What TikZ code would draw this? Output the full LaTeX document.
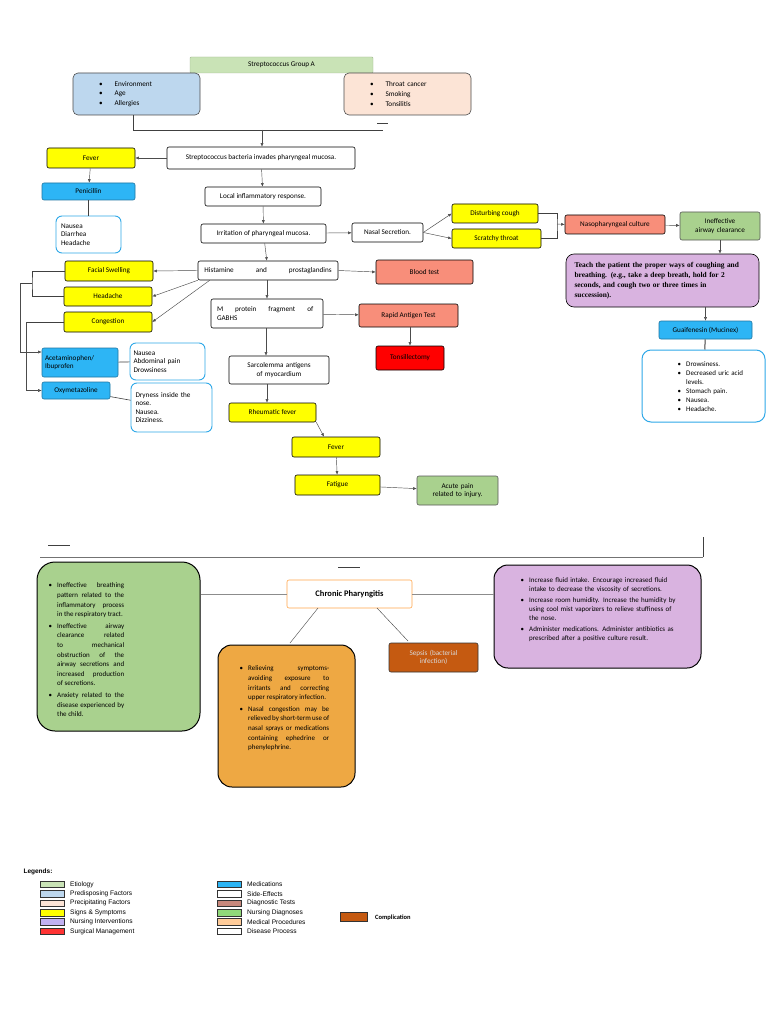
\documentclass[tikz,border=0pt]{standalone}
\usepackage{fontspec}
\usepackage{enumitem}
\setmainfont{Carlito}
\newfontfamily\lib{Liberation Sans}
\newfontfamily\ser{Liberation Serif}
\usetikzlibrary{arrows.meta}
\definecolor{etio}{HTML}{C9E3B6}
\definecolor{pred}{HTML}{BDD7EE}
\definecolor{prec}{HTML}{FCE4D6}
\definecolor{sign}{HTML}{FFFF00}
\definecolor{med}{HTML}{2DB5F5}
\definecolor{sebd}{HTML}{2EA8E8}
\definecolor{diag}{HTML}{F88E7A}
\definecolor{nd}{HTML}{A9D18E}
\definecolor{ni}{HTML}{D9B3E0}
\definecolor{mp}{HTML}{EEA843}
\definecolor{comp}{HTML}{C55A11}
\definecolor{surg}{HTML}{FF0000}
\newcommand\bx[7]{\node[#6, minimum width={(#4-#2)*1pt}, minimum height={(#5-#3)*1pt}] (#1) at ({(#2+#4)/2},{(#3+#5)/2}) {#7};}
\setlist[itemize]{nosep, leftmargin=12pt, itemsep=2pt, label=\textbullet}
\hyphenpenalty=10000
\exhyphenpenalty=10000
\tikzset{
 base/.style={draw, rounded corners=2pt, line width=0.6pt, inner sep=1pt, align=center, font=\fontsize{7.2}{8.6}\selectfont},
 dis/.style={base, fill=white},
 sg/.style={base, fill=sign},
 md/.style={base, fill=med, draw=sebd!70!black},
 se/.style={base, fill=white, draw=sebd, rounded corners=6pt, line width=0.9pt},
 dt/.style={base, fill=diag},
 ndx/.style={base, fill=nd, draw=gray!70!black},
 arr/.style={-{Latex[length=3.5pt,width=3pt]}, line width=0.45pt, black!70},
 ln/.style={line width=0.6pt, black!75},
 tx/.style={anchor=north west, inner sep=0pt, font=\fontsize{7}{9.6}\selectfont},
}
\begin{document}
\hyphenpenalty=10000
\begin{tikzpicture}[x=1pt,y=-1pt]
\useasboundingbox (0,0) rectangle (768,1024);
\fill[white] (0,0) rectangle (768,1024);
% top
\bx{sga}{190}{57}{373}{73}{base, fill=etio, draw=etio!80!black, line width=0.4pt, rounded corners=1pt}{Streptococcus Group A}
\bx{pf}{73}{73}{200}{115}{base, fill=pred, draw=black!70, rounded corners=5pt, align=left, text width=115pt}{\hspace*{20pt}\textbullet\hspace{12pt}Environment\\[1pt]\hspace*{20pt}\textbullet\hspace{12pt}Age\\[1pt]\hspace*{20pt}\textbullet\hspace{12pt}Allergies}
\bx{pc}{344}{73}{471}{115}{base, fill=prec, draw=black!70, rounded corners=5pt, align=left, text width=115pt}{\hspace*{20pt}\textbullet\hspace{12pt}Throat cancer\\[1pt]\hspace*{20pt}\textbullet\hspace{12pt}Smoking\\[1pt]\hspace*{20pt}\textbullet\hspace{12pt}Tonsilitis}
\coordinate (j1) at (133,130);
\coordinate (j2) at (383,130);
\coordinate (j3) at (262,130);
\draw[ln] (pf.south -| j1) -- (j1) -- (j2);
\draw[ln] (377,123) -- (388,123);
\bx{sbi}{167}{147}{355}{169}{dis}{Streptococcus bacteria invades pharyngeal mucosa.}
\draw[arr] (j3) -- (sbi.north -| j3);
\bx{fev}{47}{148}{135}{168}{sg}{Fever}
\draw[arr] (sbi) -- (fev);
\bx{pen}{42}{183}{135}{200}{md}{Penicillin}
\draw[arr] (fev) -- (pen);
\bx{pse}{56}{216}{121}{253}{se, align=left, text width=55pt}{Nausea\\Diarrhea\\Headache}
\draw[ln] (pen.south -| pse.north) -- (pse.north);
\bx{lir}{205}{187}{321}{206}{dis}{Local inflammatory response.}
\draw[arr] (sbi) -- (lir);
\bx{irr}{201}{224}{326}{243}{dis}{Irritation of pharyngeal mucosa.}
\draw[arr] (lir) -- (irr);
\bx{nas}{352}{223}{423}{242}{dis}{Nasal Secretion.}
\draw[arr] (irr) -- (nas);
\bx{dc}{452}{204}{538}{223}{sg}{Disturbing cough}
\bx{st}{452}{229}{541}{248}{sg}{Scratchy throat}
\draw[arr] (nas.east) -- (dc.west);
\draw[arr] (nas.east) -- (st.west);
\bx{npc}{565}{215}{665}{234}{dt}{Nasopharyngeal culture}
\coordinate (b1) at (557,224);
\draw[ln] (dc.east) -| (b1) |- (st.east);
\draw[arr] (b1) -- (npc.west);
\bx{iac}{680}{212}{760}{240}{ndx, text width=72pt}{Ineffective airway clearance}
\draw[arr] (npc) -- (iac);
\bx{tch}{566}{254}{759}{307}{base, fill=ni, rounded corners=8pt, align=left, text width=176pt, font=\ser\fontsize{7.4}{9.8}\selectfont}{\textbf{Teach the patient the proper ways of coughing and\\breathing. (e.g., take a deep breath, hold for 2\\seconds, and cough two or three times in\\succession).}}
\draw[arr] (iac) -- (iac.south |- tch.north);
\bx{gua}{659}{321}{752}{339}{md}{Guaifenesin (Mucinex)}
\draw[arr] (tch.south -| gua) -- (gua);
\bx{gse}{642}{350}{765}{422}{se, rounded corners=9pt, line width=1pt}{}
\node[tx, text width=80pt, font=\fontsize{7}{9}\selectfont] (gset) at (672,357) {%
\begin{itemize}[leftmargin=14pt, itemsep=0pt]
\item Drowsiness.
\item Decreased uric acid levels.
\item Stomach pain.
\item Nausea.
\item Headache.
\end{itemize}};
\draw[ln, line width=1pt] (gua) -- (gse);
% histamine
\bx{his}{198}{261}{338}{280}{dis}{Histamine\hspace{22pt}and\hspace{22pt}prostaglandins}
\draw[arr] (irr) -- (his);
\bx{fs}{65}{261}{153}{281}{sg}{Facial Swelling}
\bx{ha}{64}{287}{152}{306}{sg}{Headache}
\bx{cg}{64}{312}{152}{332}{sg}{Congestion}
\draw[arr] (his.west) -- (fs.east);
\draw[arr] (his.south west) -- (ha.east);
\draw[arr] ([xshift=12pt]his.south west) -- (cg.east);
\bx{bt}{376}{260}{473}{284}{dt}{Blood test}
\draw[arr] (his.east) -- (bt.west);
\bx{mp}{211}{299}{323}{328}{dis, text width=100pt, align=left}{M\hspace{12pt}protein\hspace{12pt}fragment\hspace{12pt}of\\GABHS}
\draw[arr] (his.south -| mp) -- (mp.north);
\bx{rat}{359}{304}{458}{327}{dt}{Rapid Antigen Test}
\draw[arr] (mp) -- (rat);
\bx{ton}{376}{346}{444}{370}{base, fill=surg}{Tonsillectomy}
\draw[arr] (rat.south -| ton) -- (ton);
\bx{sar}{229}{356}{329}{384}{dis, text width=96pt}{Sarcolemma antigens of myocardium}
\draw[arr] (mp.south -| 266,0) -- (sar.north -| 266,0);
\bx{rf}{229}{403}{316}{422}{sg}{Rheumatic fever}
\draw[arr] (sar.south -| 267,0) -- (rf.north -| 267,0);
\bx{fv2}{292}{437}{380}{457}{sg}{Fever}
\draw[arr] (rf.south east) -- (fv2.north west -| 324,0);
\bx{fat}{295}{475}{380}{495}{sg}{Fatigue}
\draw[arr] (fv2) -- (fat);
\bx{apn}{417}{476}{498}{505}{ndx, text width=72pt}{Acute pain related to injury.}
\draw[arr] (fat) -- (apn);
% meds
\bx{ace}{42}{348}{118}{377}{md, text width=70pt, align=left}{Acetaminophen/\\Ibuprofen}
\bx{ase}{130}{343}{205}{380}{se, align=left, text width=68pt}{Nausea\\Abdominal pain\\Drowsiness}
\draw[ln] (ace) -- (ase);
\bx{oxy}{42}{382}{110}{399}{md}{Oxymetazoline}
\bx{ose}{131}{383}{212}{432}{se, align=left, text width=72pt}{Dryness inside the nose.\\Nausea.\\Dizziness.}
\draw[ln] (oxy) -- (ose);
\coordinate (k1) at (32,283);
\coordinate (k2) at (20,283);
\coordinate (k3) at (26,322);
\draw[ln] (fs.west) -| (k1) |- (ha.west);
\draw[ln] (k1) -- (k2);
\draw[arr] (k2) |- (ace.west |- 0,352);
\draw[ln] (cg.west) -| (k3);
\draw[arr] (k3) |- (oxy.west);
% divider
\draw[line width=0.5pt, black!55] (40,557) -- (703,557);
\draw[ln] (703,537) -- (703,557);
\draw[ln] (48,545) -- (70,545);
\draw[ln] (338,567) -- (360,567);
% bottom
\bx{cp}{287}{580}{412}{608}{base, fill=white, draw=orange!70, line width=0.6pt, font=\bfseries\fontsize{8.5}{10}\selectfont}{Chronic Pharyngitis}
\bx{ndb}{37}{562}{200}{731}{base, fill=nd, rounded corners=18pt, line width=1pt}{}
\node[tx, text width=79pt, align=justify] (ndt) at (45,578) {%
\begin{itemize}
\item Ineffective breathing pattern related to the inflammatory process in the respiratory tract.
\item Ineffective airway clearance related to mechanical obstruction of the airway secretions and increased production of secretions.
\item Anxiety related to the disease experienced by the child.
\end{itemize}};
\bx{mpb}{218}{645}{355}{787}{base, fill=mp, rounded corners=14pt, line width=1pt}{}
\node[tx, text width=93pt, align=justify] (mpt) at (236,661) {%
\begin{itemize}
\item Relieving symptoms- avoiding exposure to irritants and correcting upper respiratory infection.
\item Nasal congestion may be relieved by short-term use of nasal sprays or medications containing ephedrine or phenylephrine.
\end{itemize}};
\bx{sep}{389}{643}{478}{672}{base, fill=comp, draw=black!80, text width=60pt, text=white!85!black}{Sepsis (bacterial infection)}
\bx{nib}{494}{565}{701}{668}{base, fill=ni, rounded corners=14pt, line width=1pt}{}
\node[tx, text width=168pt, align=left, font=\fontsize{7}{9.3}\selectfont] (nit) at (515,573) {%
\begin{itemize}[leftmargin=14pt, itemsep=1pt]
\item Increase fluid intake. Encourage increased fluid intake to decrease the viscosity of secretions.
\item Increase room humidity. Increase the humidity by using cool mist vaporizers to relieve stuffiness of the nose.
\item Administer medications. Administer antibiotics as prescribed after a positive culture result.
\end{itemize}};
\draw[line width=0.6pt, black!45] (ndb.east |- cp) -- (cp.west);
\draw[line width=0.6pt, black!45] (cp.east) -- (nib.west |- cp);
\draw[line width=0.4pt, black!75] (318,608) -- (290,643);
\draw[line width=0.4pt, black!75] (377,608) -- (408,641);
% legend
\node[anchor=west, font=\lib\bfseries\fontsize{6.5}{8}\selectfont] (lg) at (20,872) {Legends:};
\tikzset{sw/.style={draw=black!80, line width=0.6pt, minimum width=24pt, minimum height=6.5pt, inner sep=0pt},
 lt/.style={anchor=west, font=\lib\fontsize{6.6}{8}\selectfont, inner sep=0pt}}
\foreach \c/\t [count=\i] in {etio/Etiology, pred/Predisposing Factors, prec/Precipitating Factors, sign/Signs \& Symptoms, ni!70!blue!60/Nursing Interventions, red!80/Surgical Management}{
  \node[sw, fill=\c] (la\i) at (52,{875+9.4*\i}) {};
  \node[lt] (lat\i) at (70,{875+9.4*\i}) {\t};
}
\foreach \c/\t [count=\i] in {med/Medications, white/Side-Effects, diag!60!gray/Diagnostic Tests, nd!85!green/Nursing Diagnoses, prec!40!orange!60/Medical Procedures, white/Disease Process}{
  \node[sw, fill=\c] (lb\i) at (229,{875+9.4*\i}) {};
  \node[lt] (lbt\i) at (247,{875+9.4*\i}) {\t};
}
\node[sw, fill=comp, line width=1pt, minimum width=27pt, minimum height=9pt] (lc) at (354,917) {};
\node[lt, font=\bfseries\fontsize{6.5}{8}\selectfont] (lct) at (375,918) {Complication};
\end{tikzpicture}
\end{document}
